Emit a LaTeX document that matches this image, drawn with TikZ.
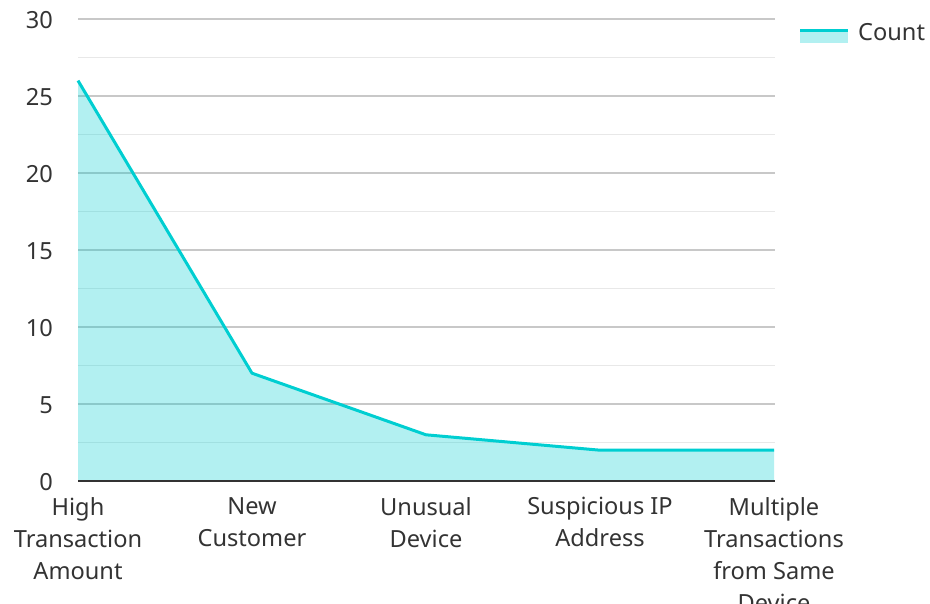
\documentclass[tikz,border=0pt]{standalone}
\usepackage{fontspec}
\setmainfont{Noto Sans}
\usetikzlibrary{positioning}
\definecolor{countline}{HTML}{00CED1}
\definecolor{gridmajor}{HTML}{C8C8C8}
\definecolor{gridminor}{HTML}{E8E8E8}
\definecolor{labelgray}{HTML}{333333}

\begin{document}
\begin{tikzpicture}[x=1pt, y=-1pt,
  every node/.style={font=\fontsize{23.6}{32}\selectfont, text=labelgray, inner sep=0pt},
  catlabel/.style={anchor=north, align=center}]
\useasboundingbox (0,0) rectangle (930,604);
\clip (0,0) rectangle (930,604);
% grid lines, minor every 2.5
\foreach \v in {2.5,7.5,...,27.5}
  \draw[gridminor, line width=1.2pt] (78,{481-15.4*\v}) -- (775,{481-15.4*\v});
\foreach \v in {5,10,...,30} {
  \draw[gridmajor, line width=1.2pt] (78,{481-15.4*\v}) -- (775,{481-15.4*\v});
}
\foreach \v in {0,5,...,30}
  \node[anchor=east] (y\v) at (53,{482-15.4*\v}) {\v};
% data
\foreach \v [count=\k from 0] in {26,7,3,2,2}
  \coordinate (p\k) at ({78+174*\k},{481-15.4*\v});
\fill[countline, opacity=0.3] (78,481) -- (p0) -- (p1) -- (p2) -- (p3) -- (p4) -- (774,481) -- cycle;
\draw[countline, line width=3pt, line join=round] (p0) -- (p1) -- (p2) -- (p3) -- (p4);
\draw[labelgray, line width=2pt] (78,481) -- (775,481);
% categories
\node[catlabel] (cat0) at (78,497) {High\\Transaction\\Amount};
\node[catlabel] (cat1) at (252,497) {New\\Customer};
\node[catlabel] (cat2) at (426,497) {Unusual\\Device};
\node[catlabel] (cat3) at (600,497) {Suspicious IP\\Address};
\node[catlabel] (cat4) at (774,497) {Multiple\\Transactions\\from Same\\Device};
% legend
\fill[countline, opacity=0.3] (800,32.5) rectangle (848,43);
\draw[countline, line width=3pt] (800,31) -- (848,31);
\node[anchor=west] (legend) at (858,32) {Count};
\end{tikzpicture}
\end{document}
